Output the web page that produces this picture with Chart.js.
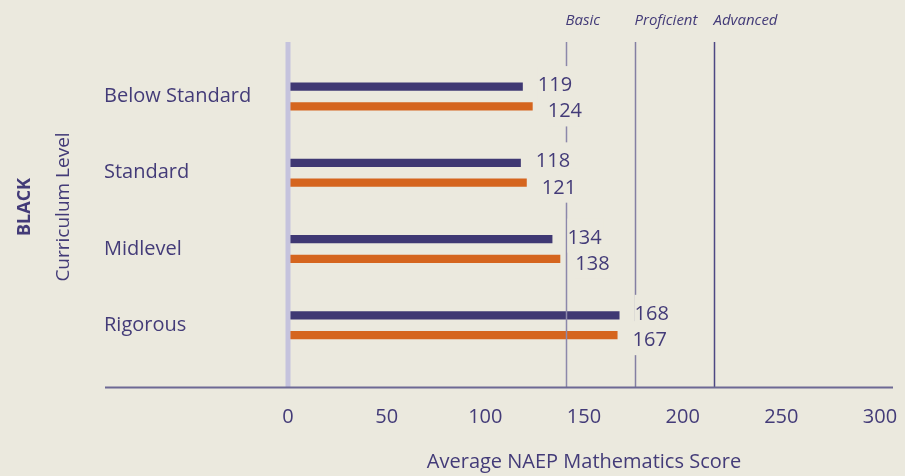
<!DOCTYPE html>
<html>
<head>
<meta charset="utf-8">
<script src="https://cdn.jsdelivr.net/npm/chart.js@4/dist/chart.umd.min.js"></script>
<style>
html, body { margin: 0; padding: 0; background: #ebe9de; }
</style>
</head>
<body>
<canvas id="myChart" width="905" height="476"></canvas>
<script>
const categories = ['Below Standard', 'Standard', 'Midlevel', 'Rigorous'];
const scoresA = [119, 118, 134, 168];
const scoresB = [124, 121, 138, 167];
const xTicks = [0, 50, 100, 150, 200, 250, 300];
const levelNames = ['Basic', 'Proficient', 'Advanced'];
const levelScores = [141, 176, 216];

const bg = '#ebe9de';
const ink = '#433b78';
const levelColors = ['#8c88aa', '#837fa2', '#4d4783'];

Chart.defaults.font.family = '"Open Sans", sans-serif';
Chart.defaults.color = ink;

const paintBg = {
  id: 'paintBg',
  beforeDraw(chart) {
    const ctx = chart.ctx;
    ctx.save();
    ctx.fillStyle = bg;
    ctx.fillRect(0, 0, chart.width, chart.height);
    ctx.restore();
  }
};

// zero line, level markers, value labels, axis line and side titles
const extras = {
  id: 'extras',
  afterDatasetsDraw(chart) {
    const ctx = chart.ctx;
    const area = chart.chartArea;
    const xs = chart.scales.x;
    ctx.save();

    // light bar at zero
    const x0 = xs.getPixelForValue(0);
    ctx.fillStyle = '#c5c3dd';
    ctx.fillRect(x0 - 2.5, area.top, 5, area.bottom - area.top);

    // achievement level lines
    levelScores.forEach((v, i) => {
      const x = Math.round(xs.getPixelForValue(v)) + 0.5;
      ctx.strokeStyle = levelColors[i];
      ctx.lineWidth = 1.5;
      ctx.beginPath();
      ctx.moveTo(x, area.top);
      ctx.lineTo(x, area.bottom);
      ctx.stroke();
      ctx.fillStyle = ink;
      ctx.font = 'italic 15px "Open Sans"';
      ctx.textAlign = 'left';
      ctx.textBaseline = 'middle';
      ctx.fillText(levelNames[i], x - 1, 21);
    });

    // value labels sit on background boxes that break the lines
    ctx.font = '20px "Open Sans"';
    ctx.textAlign = 'left';
    ctx.textBaseline = 'alphabetic';
    const items = [];
    chart.data.datasets.forEach((ds, di) => {
      chart.getDatasetMeta(di).data.forEach((bar, i) => {
        const text = String(ds.data[i].x);
        items.push({
          text,
          x: bar.x + 15,
          cy: bar.y + (di === 0 ? -2.5 : 4),
          w: ctx.measureText(text).width
        });
      });
    });
    ctx.fillStyle = bg;
    items.forEach(it => ctx.fillRect(it.x, it.cy - 18, it.w + 2, 34));
    ctx.fillStyle = ink;
    items.forEach(it => ctx.fillText(it.text, it.x, it.cy + 7));

    ctx.restore();
  },
  afterDraw(chart) {
    const ctx = chart.ctx;
    const area = chart.chartArea;
    ctx.save();
    ctx.strokeStyle = '#6d6994';
    ctx.lineWidth = 2;
    ctx.beginPath();
    ctx.moveTo(105, area.bottom + 0.5);
    ctx.lineTo(893, area.bottom + 0.5);
    ctx.stroke();

    ctx.fillStyle = ink;
    ctx.textAlign = 'center';
    ctx.textBaseline = 'middle';
    ctx.translate(25, 207);
    ctx.rotate(-Math.PI / 2);
    ctx.font = 'bold 18px "Open Sans"';
    ctx.fillText('BLACK', 0, 0);
    ctx.font = '19px "Open Sans"';
    ctx.fillText('Curriculum Level', 0, 39);
    ctx.restore();
  }
};

const noEdgePadding = s => {
  s.paddingLeft = 0;
  s.paddingRight = 0;
  s.paddingTop = 0;
  s.paddingBottom = 0;
};

const data = {
  datasets: [{
    data: scoresA.map((v, i) => ({ x: v, y: i })),
    backgroundColor: '#3f3873',
    categoryPercentage: 0.52,
    barPercentage: 0.42
  }, {
    data: scoresB.map((v, i) => ({ x: v, y: i })),
    backgroundColor: '#d5651e',
    categoryPercentage: 0.52,
    barPercentage: 0.42
  }]
};

const config = {
  type: 'bar',
  data: data,
  options: {
    indexAxis: 'y',
    responsive: false,
    animation: false,
    layout: { padding: { left: 104, right: 25, top: 42, bottom: 0 } },
    plugins: {
      legend: { display: false },
      tooltip: { enabled: false }
    },
    scales: {
      x: {
        type: 'linear',
        min: 0,
        max: 300,
        afterBuildTicks: s => { s.ticks = xTicks.map(v => ({ value: v })); },
        afterFit: s => { s.height = 89; noEdgePadding(s); },
        grid: { display: false, drawTicks: false },
        border: { display: false },
        ticks: { font: { size: 20 }, color: ink, padding: 18, maxRotation: 0 },
        title: {
          display: true,
          text: 'Average NAEP Mathematics Score',
          font: { size: 20 },
          color: ink,
          padding: { top: 0, bottom: 2 }
        }
      },
      y: {
        type: 'linear',
        reverse: true,
        offset: false,
        min: -0.715,
        max: 3.81,
        afterBuildTicks: s => { s.ticks = categories.map((c, i) => ({ value: i })); },
        afterFit: s => { s.width = 184; noEdgePadding(s); },
        grid: { display: false, drawTicks: false },
        border: { display: false },
        ticks: {
          callback: v => categories[v],
          crossAlign: 'far',
          font: { size: 20 },
          color: ink
        }
      }
    }
  },
  plugins: [paintBg, extras]
};

const myChart = new Chart(document.getElementById('myChart'), config);
</script>
</body>
</html>
